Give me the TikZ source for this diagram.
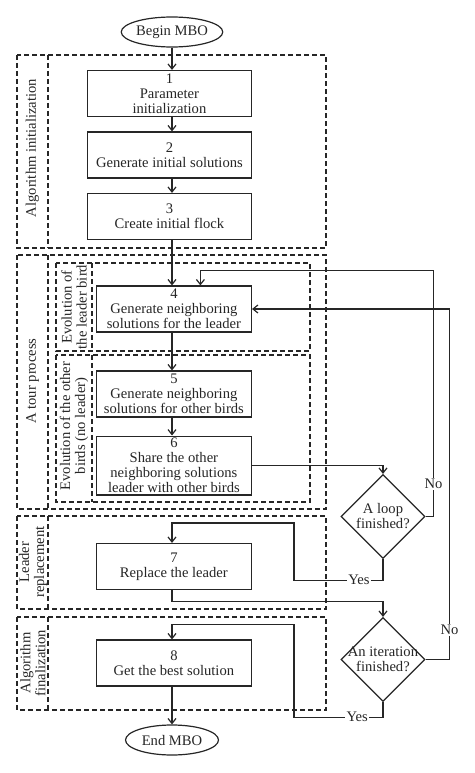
\documentclass[tikz,border=0pt]{standalone}
\usepackage{fontspec}
\setmainfont{Liberation Serif}
\usetikzlibrary{arrows.meta,calc,positioning,shapes.geometric}
\definecolor{Ink}{HTML}{262626}
\definecolor{Paper}{HTML}{FFFFFF}
\newcommand{\chartfont}{\fontsize{14.6pt}{15pt}\selectfont}
\tikzset{
  stepbox/.style={
    draw=Ink, line width=1.2pt, fill=Paper, text=Ink, font=\chartfont,
    minimum width=155, minimum height=46, inner sep=2pt, align=center, anchor=east
  },
  terminal/.style={
    ellipse, draw=Ink, line width=1.2pt, fill=Paper, text=Ink, font=\chartfont,
    minimum width=93, minimum height=30, inner sep=0pt
  },
  decision/.style={
    diamond, draw=Ink, line width=1.2pt, fill=Paper, text=Ink, font=\chartfont,
    minimum width=84, minimum height=84, inner sep=-4pt, align=center
  },
  group/.style={draw=Ink, line width=1.2pt, dash pattern=on 5pt off 3pt},
  grouplabel/.style={rotate=90, align=center, text=Ink, font=\chartfont},
  answer/.style={fill=Paper, inner sep=1.5pt, text=Ink, font=\chartfont},
  flow/.style={-{Straight Barb[length=5pt,width=8pt]}, line width=1.2pt, draw=Ink}
}

\begin{document}
\begin{tikzpicture}[x=1pt,y=-1pt]
  \useasboundingbox (0,0) rectangle (474,773);
  % dashed phase boxes
  \draw[group] (17,55) rectangle (326,248) (48,55) -- (48,248);
  \draw[group] (17,255) rectangle (326,509) (48,255) -- (48,509);
  \draw[group] (56,263) rectangle (310,351) (92,263) -- (92,351);
  \draw[group] (56,355) rectangle (310,502) (92,355) -- (92,502);
  \draw[group] (17,516) rectangle (326,609) (48,516) -- (48,609);
  \draw[group] (17,617) rectangle (326,710) (48,617) -- (48,710);
  \node[grouplabel] (initlbl) at (32.5,148) {Algorithm initialization};
  \node[grouplabel] (tourlbl) at (32.5,381) {A tour process};
  \node[grouplabel] (leaderlbl) at (74,307) {Evolution of\\the leader bird};
  \node[grouplabel] (otherslbl) at (74,426) {Evolution of the other\\birds (no leader)};
  \node[grouplabel] (replacelbl) at (33,562) {Leader\\replacement};
  \node[grouplabel] (finallbl) at (33,663) {Algorithm\\finalization};
  % steps
  \node[terminal] (begin) at (172,32) {Begin MBO};
  \node[stepbox,minimum width=164] (s1) at (252,93.5) {1\\Parameter\\initialization};
  \node[stepbox,minimum width=164] (s2) at (252,155) {2\\Generate initial solutions};
  \node[stepbox,minimum width=164] (s3) at (252,216.5) {3\\Create initial flock};
  \node[stepbox] (s4) at (252,309) {4\\Generate neighboring\\solutions for the leader};
  \node[stepbox] (s5) at (252,394) {5\\Generate neighboring\\solutions for other birds};
  \node[stepbox] (s6) at (252,465.5) {6\\Share the other\\neighboring solutions\\leader with other birds};
  \node[stepbox] (s7) at (252,566.5) {7\\Replace the leader};
  \node[stepbox] (s8) at (252,663) {8\\Get the best solution};
  \node[terminal] (end) at (172,740) {End MBO};
  \node[decision] (loop) at (383,516.5) {A loop\\finished?};
  \node[decision] (iter) at (383,659.5) {An iteration\\finished?};
  % connectors
  \draw[flow] (begin) -- (s1.north -| begin);
  \draw[flow] (s1.south -| begin) -- (s2.north -| begin);
  \draw[flow] (s2.south -| begin) -- (s3.north -| begin);
  \draw[flow] (s3.south -| begin) -- (s4.north -| begin);
  \draw[flow] (s4.south -| begin) -- (s5.north -| begin);
  \draw[flow] (s5.south -| begin) -- (s6.north -| begin);
  \draw[flow] (s6.east) -| (loop.north);
  \draw[flow] (loop.south) -- ++(0,21) -- node[answer,pos=0.27]{Yes} ++(-89,0)
    |- ($(s7.north -| begin)+(0,-20)$) -- (s7.north -| begin);
  \draw[flow] (loop.east) -- ++(8,0) |- node[answer,pos=0.066]{No} ($(s4.north)+(26.5,-15)$)
    -- ($(s4.north)+(26.5,0)$);
  \draw[flow] (s7.south -| begin) -- ++(0,11) -| (iter.north);
  \draw[flow] (iter.south) -- ++(0,15) -- node[answer,pos=0.29]{Yes} ++(-89,0)
    |- ($(s8.north -| begin)+(0,-15)$) -- (s8.north -| begin);
  \draw[flow] (iter.east) -- ++(24,0) |- node[answer,pos=0.042]{No} (s4.east);
  \draw[flow] (s8.south -| begin) -- (end);
\end{tikzpicture}
\end{document}
